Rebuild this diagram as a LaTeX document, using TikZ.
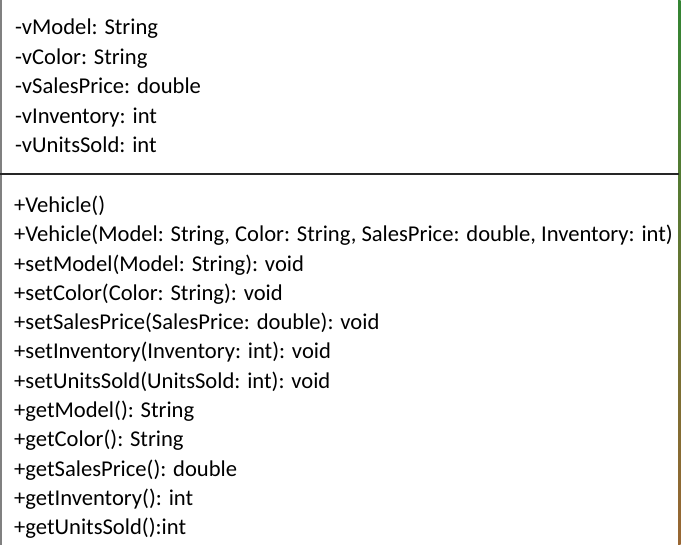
\documentclass[tikz,border=0pt]{standalone}
\usepackage{fontspec}
\setmainfont{Carlito}
\usetikzlibrary{calc}

\begin{document}
\begin{tikzpicture}[
    x=1pt, y=-1pt,
    member/.style={anchor=base west, inner sep=0pt, font=\fontsize{22.6}{26}\selectfont}
]
    \useasboundingbox (0,0) rectangle (681,545);

    % Box edges
    \draw[gray, line width=1.5pt] (0.75,0) -- (0.75,545);
    \shade[top color=green!40!black!80, bottom color=brown!80!black] (678,0) rectangle (680.5,545);

    % Attributes
    \foreach \txt [count=\i from 0] in {-vModel: String, -vColor: String,
        -vSalesPrice: double, -vInventory: int, -vUnitsSold: int} {
        \node[member] (attr\i) at (15, {35 + \i*29.4}) {\txt};
    }

    % Divider
    \coordinate (divL) at (0,174);
    \coordinate (divR) at (679,174);
    \draw[black!85, line width=2pt] (divL) -- (divR);

    % Operations
    \foreach \txt [count=\i from 0] in {+Vehicle(),
        {+Vehicle(Model: String, Color: String, SalesPrice: double, Inventory: int)},
        +setModel(Model: String): void, +setColor(Color: String): void,
        +setSalesPrice(SalesPrice: double): void, +setInventory(Inventory: int): void,
        +setUnitsSold(UnitsSold: int): void, +getModel(): String,
        +getColor(): String, +getSalesPrice(): double,
        +getInventory(): int, +getUnitsSold():int} {
        \node[member] (op\i) at (14, {212.5 + \i*29.3}) {\txt};
    }

\end{tikzpicture}
\end{document}
